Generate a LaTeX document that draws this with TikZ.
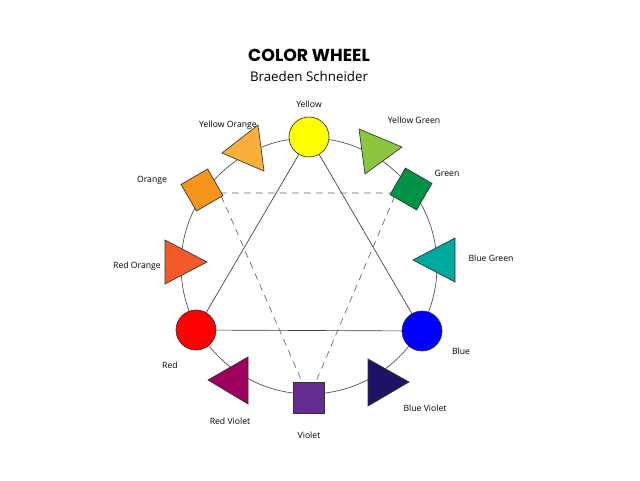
\documentclass[tikz,border=0pt]{standalone}
\usepackage{fontspec}
\setmainfont{Open Sans}
\newfontfamily\titlefont{Poppins}
\usetikzlibrary{shapes.geometric}
\definecolor{cY}{HTML}{FFFF00}
\definecolor{cYO}{HTML}{FBAE3C}
\definecolor{cO}{HTML}{F7941D}
\definecolor{cRO}{HTML}{F15A29}
\definecolor{cR}{HTML}{FF0000}
\definecolor{cRV}{HTML}{9E005D}
\definecolor{cV}{HTML}{662D91}
\definecolor{cBV}{HTML}{1B1464}
\definecolor{cB}{HTML}{0000FF}
\definecolor{cBG}{HTML}{00A99D}
\definecolor{cG}{HTML}{009245}
\definecolor{cYG}{HTML}{8CC63F}
\begin{document}
\begin{tikzpicture}[x=0.75pt,y=-0.75pt,
  lab/.style={font=\fontsize{6.5}{7}\selectfont},
  shp/.style={draw=black!80,line width=0.5pt},
  circ/.style={shp,circle,minimum size=30pt,inner sep=0pt},
  sq/.style={shp,rectangle,minimum size=23pt,inner sep=0pt}]
\useasboundingbox (0,0) rectangle (640,480);
\fill[white] (0,0) rectangle (640,480);
\node (title) at (309,55) {\titlefont\bfseries\fontsize{13}{14}\selectfont COLOR WHEEL};
\node (author) at (309,76) {\fontsize{10}{12}\selectfont Braeden Schneider};
\draw[black!70,line width=0.5pt] (309,266) circle[radius=96pt];
\coordinate (y) at (309,137);
\coordinate (r) at (196,330);
\coordinate (b) at (422,331);
\coordinate (o) at (202,190);
\coordinate (g) at (411,189);
\coordinate (v) at (309,398);
\coordinate (oe) at (220,193);
\coordinate (ge) at (396,193);
\draw[black!75,line width=0.5pt] (y) -- (r) -- (b) -- cycle;
\draw[black!60,dash pattern=on 5pt off 4pt,line width=0.5pt] (oe) -- (ge) -- (v) -- (oe);
\node[circ,fill=cY] (Y) at (y) {};
\node[circ,fill=cR] (R) at (r) {};
\node[circ,fill=cB] (B) at (b) {};
\node[sq,fill=cO,rotate=30] (O) at (o) {};
\node[sq,fill=cG,rotate=-30] (G) at (g) {};
\node[sq,fill=cV] (V) at (v) {};
\draw[shp,fill=cYO] (222,153) -- (258,125) -- (264,171) -- cycle;
\draw[shp,fill=cYG] (359,129) -- (402,147) -- (365,174) -- cycle;
\draw[shp,fill=cRO] (165,240) -- (207,262) -- (165,284) -- cycle;
\draw[shp,fill=cBG] (413,260) -- (455,238) -- (455,282) -- cycle;
\draw[shp,fill=cRV] (208,380) -- (248,357) -- (248,404) -- cycle;
\draw[shp,fill=cBV] (368,359) -- (409,382) -- (368,406) -- cycle;
\node[lab] (lY) at (309,104) {Yellow};
\node[lab] (lYO) at (228,125) {Yellow Orange};
\node[lab] (lYG) at (414,120) {Yellow Green};
\node[lab] (lO) at (152,180) {Orange};
\node[lab] (lG) at (447,173) {Green};
\node[lab] (lRO) at (137,266) {Red Orange};
\node[lab] (lBG) at (491,258) {Blue Green};
\node[lab] (lR) at (170,365) {Red};
\node[lab] (lB) at (461,351) {Blue};
\node[lab] (lRV) at (230,421) {Red Violet};
\node[lab] (lV) at (309,435) {Violet};
\node[lab] (lBV) at (425,408) {Blue Violet};
\end{tikzpicture}
\end{document}
